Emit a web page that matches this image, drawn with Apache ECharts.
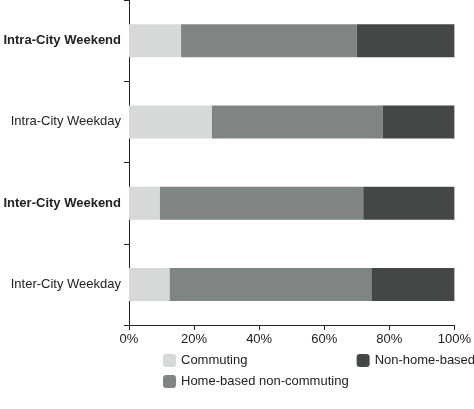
<!DOCTYPE html>
<html><head><meta charset="utf-8">
<script src="https://cdn.jsdelivr.net/npm/echarts@6/dist/echarts.min.js"></script>
<style>html,body{margin:0;padding:0;background:#fff}#c{width:474px;height:409px}</style>
</head><body><div id="c"></div>
<script>
const categories = ['Inter-City Weekday','Inter-City Weekend','Intra-City Weekday','Intra-City Weekend'];
const commuting = [12.5, 9.5, 25.5, 16];
const homeBased = [62, 62.5, 52.5, 54];
const nonHomeBased = [25.5, 28, 22, 30];
const xTicks = [0,20,40,60,80,100];
const chart = echarts.init(document.getElementById('c'));
const mk = (name, data, color) => ({name, type:'bar', stack:'a', data, barWidth:33, itemStyle:{color}});
chart.setOption({
  animation:false,
  grid:{left:129, right:19, top:0, bottom:84},
  legend:{orient:'vertical', left:158, top:349, itemGap:8, itemWidth:13, itemHeight:13,
    textStyle:{fontFamily:'Liberation Sans', fontSize:13, color:'#222'},
    data:['Commuting','Home-based non-commuting','Non-home-based non-commuting']},
  xAxis:{type:'value', min:0, max:100, interval:20,
    axisLine:{show:true, lineStyle:{color:'#222'}}, axisTick:{show:true, length:5, lineStyle:{color:'#222'}},
    splitLine:{show:false},
    axisLabel:{formatter:v=>v+'%', fontFamily:'Liberation Sans', fontSize:13, color:'#222'}},
  yAxis:{type:'category', data:categories,
    axisLine:{show:true, lineStyle:{color:'#222'}}, axisTick:{show:true, length:5, lineStyle:{color:'#222'}},
    axisLabel:{fontFamily:'Liberation Sans', fontSize:13, color:'#222', margin:8,
      formatter:v=> v.endsWith('Weekend') ? '{b|'+v+'}' : v,
      rich:{b:{fontWeight:'bold', fontFamily:'Liberation Sans', fontSize:13, color:'#222'}}}},
  series:[mk('Commuting',commuting,'#d5d9d8'), mk('Home-based non-commuting',homeBased,'#7f8583'), mk('Non-home-based non-commuting',nonHomeBased,'#434746')]
});
</script></body></html>
